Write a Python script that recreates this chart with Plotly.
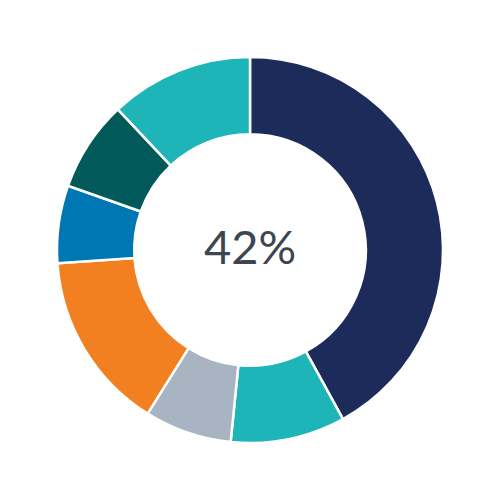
import plotly.graph_objects as go

# slice shares, clockwise from 12 o'clock
labels = ['A', 'B', 'C', 'D', 'E', 'F', 'G']
values = [42.0, 9.6, 7.3, 15.0, 6.5, 7.6, 12.0]
colors = ['#1c2b5a', '#1db5b7', '#a8b4c2', '#f38020', '#0077b5', '#02595a', '#1db5b7']
center_text = '42%'

fig = go.Figure(go.Pie(
    labels=labels,
    values=values,
    hole=0.6,
    sort=False,
    direction='clockwise',
    rotation=0,
    marker=dict(colors=colors, line=dict(color='white', width=2.5)),
    textinfo='none',
    hoverinfo='label+percent',
    showlegend=False,
))

fig.add_annotation(x=0.5, y=0.5, xref='paper', yref='paper',
                   text=center_text, showarrow=False, yshift=4,
                   font=dict(family='Lato', size=47, color='#3d4550'))

# page body has an 8px margin, so shrink the figure and offset the pie
fig.update_layout(width=492, height=492,
                  margin=dict(l=49, r=57, t=49, b=57),
                  paper_bgcolor='white', plot_bgcolor='white')

fig.write_html("out.html")
